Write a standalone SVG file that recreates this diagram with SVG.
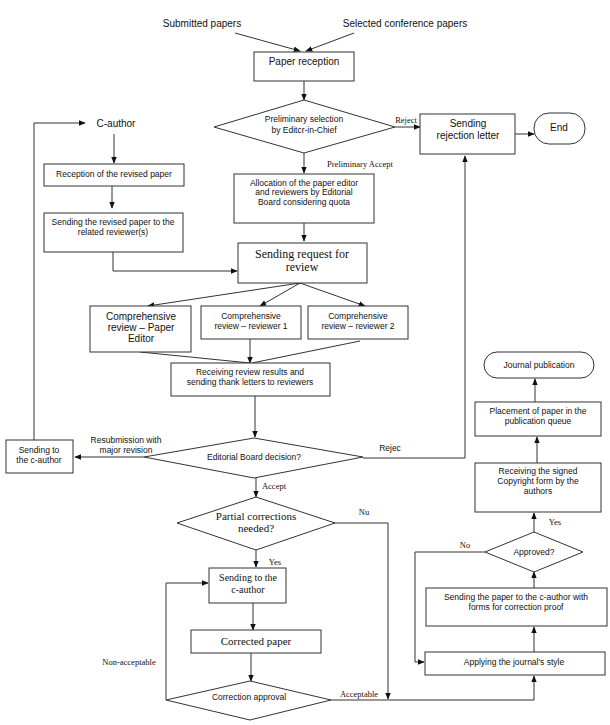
<svg xmlns="http://www.w3.org/2000/svg" width="610" height="725" viewBox="0 0 610 725">
<style>
.s{font-family:"Liberation Sans",Arial,sans-serif;font-size:8.5px;fill:#111;text-anchor:middle}
.sl{font-family:"Liberation Sans",Arial,sans-serif;font-size:10px;fill:#111;text-anchor:middle}
.r{font-family:"Liberation Serif","Times New Roman",serif;font-size:11px;fill:#111;text-anchor:middle}
.rl{font-family:"Liberation Serif","Times New Roman",serif;font-size:8.5px;fill:#111;text-anchor:middle}
.b{fill:#fff;stroke:#333;stroke-width:1}
.c{fill:none;stroke:#333;stroke-width:1;marker-end:url(#a)}
.n{fill:none;stroke:#333;stroke-width:1}
</style>
<defs><marker id="a" viewBox="0 0 10 10" refX="9" refY="5" markerWidth="7" markerHeight="7" orient="auto"><path d="M0,1L10,5L0,9z" fill="#111"/></marker></defs>
<rect width="610" height="725" fill="#fff"/>
<g id="connectors">
<path class="c" d="M235,33L300,51"/><path class="c" d="M354,33L306,51"/>
<path class="c" d="M304,81V100"/>
<path class="c" d="M395,127H420"/>
<path class="c" d="M515,134H534"/>
<path class="c" d="M304,153V173"/>
<path class="c" d="M304,223V241"/>
<path class="c" d="M114,134V163"/>
<path class="c" d="M112,186V208"/>
<path class="c" d="M113,252V271H237"/>
<path class="c" d="M300,283L148,306"/><path class="c" d="M300,283L260,306"/><path class="c" d="M300,283L365,306"/>
<path class="n" d="M140,352L250,363"/><path class="c" d="M250,339V363"/><path class="n" d="M360,341L252,363"/>
<path class="c" d="M255,396V437"/>
<path class="c" d="M144,457H75"/>
<path class="c" d="M34,440V123H85"/>
<path class="c" d="M363,458H465V156"/>
<path class="c" d="M256,478V497"/>
<path class="c" d="M335,523H388V699"/>
<path class="c" d="M256,550V567"/>
<path class="c" d="M253,603V630"/>
<path class="c" d="M251,653V681"/>
<path class="c" d="M166,700V583H208"/>
<path class="c" d="M331,700H534V676"/>
<path class="c" d="M485,552H415V662H424"/>
<path class="c" d="M534,652V627"/>
<path class="c" d="M534,588V572"/>
<path class="c" d="M534,532V513"/>
<path class="c" d="M537,463V437"/>
<path class="c" d="M535,402V379"/>
</g>
<g id="inputs"><text class="sl" x="202" y="27">Submitted papers</text><text class="sl" x="405" y="27">Selected conference papers</text></g>
<g id="reception"><rect class="b" x="254" y="52" width="100" height="29"/><text class="sl" x="304" y="65">Paper reception</text></g>
<g id="prelim"><path class="b" d="M214,127L304,100L395,127L304,153z"/><text class="s" x="304" y="122">Preliminary selection</text><text class="s" x="304" y="133">by Editcr-in-Chief</text></g>
<g id="labels">
<text class="rl" x="406" y="123">Reject</text>
<text class="rl" x="360" y="167">Preliminary Accept</text>
<text class="s" x="126" y="443">Resubmission with</text><text class="s" x="126" y="453">major revision</text>
<text class="s" x="390" y="451">Rejec</text>
<text class="rl" x="274" y="489">Accept</text>
<text class="rl" x="364" y="515">Nu</text>
<text class="rl" x="275" y="565">Yes</text>
<text class="rl" x="129" y="665">Non-acceptable</text>
<text class="rl" x="359" y="697">Acceptable</text>
<text class="rl" x="465" y="548">No</text>
<text class="rl" x="555" y="525">Yes</text>
</g>
<g id="rejection"><rect class="b" x="420" y="114" width="95" height="40"/><text class="sl" x="468" y="127">Sending</text><text class="sl" x="468" y="139">rejection letter</text></g>
<g id="end"><rect class="b" x="534" y="113" width="51" height="31" rx="15"/><text class="sl" x="559" y="131">End</text></g>
<g id="cauthor"><text class="sl" x="116" y="127">C-author</text></g>
<g id="revrecv"><rect class="b" x="44" y="164" width="140" height="22"/><text class="s" x="114" y="177">Reception of the revised paper</text></g>
<g id="revsend"><rect class="b" x="44" y="213" width="139" height="39"/><text class="s" x="113" y="225">Sending the revised paper to the</text><text class="s" x="113" y="235">related reviewer(s)</text></g>
<g id="alloc"><rect class="b" x="234" y="174" width="140" height="49"/><text class="s" x="304" y="186">Allocation of the paper editor</text><text class="s" x="304" y="195">and reviewers by Editorial</text><text class="s" x="304" y="205">Board considering quota</text></g>
<g id="request"><rect class="b" x="238" y="243" width="129" height="40"/><text class="r" x="302" y="258" style="font-size:12px">Sending request for</text><text class="r" x="302" y="271" style="font-size:12px">review</text></g>
<g id="revpe"><rect class="b" x="90" y="306" width="101" height="46"/><text class="sl" x="141" y="320">Comprehensive</text><text class="sl" x="141" y="331">review – Paper</text><text class="sl" x="141" y="342">Editor</text></g>
<g id="rev1"><rect class="b" x="201" y="306" width="100" height="33"/><text class="s" x="251" y="319">Comprehensive</text><text class="s" x="251" y="329">review – reviewer 1</text></g>
<g id="rev2"><rect class="b" x="308" y="306" width="100" height="33"/><text class="s" x="358" y="319">Comprehensive</text><text class="s" x="358" y="329">review – reviewer 2</text></g>
<g id="results"><rect class="b" x="171" y="363" width="159" height="33"/><text class="s" x="250" y="375">Receiving review results and</text><text class="s" x="250" y="385">sending thank letters to reviewers</text></g>
<g id="board"><path class="b" d="M144,457L254,438L363,457L254,478z"/><text class="s" x="254" y="460">Editorial Board decision?</text></g>
<g id="tocauthor"><rect class="b" x="6" y="440" width="67" height="33"/><text class="s" x="39" y="453">Sending to</text><text class="s" x="39" y="463">the c-author</text></g>
<g id="partial"><path class="b" d="M177,523L256,497L335,523L256,550z"/><text class="r" x="256" y="520">Partial corrections</text><text class="r" x="256" y="532">needed?</text></g>
<g id="send2"><rect class="b" x="209" y="568" width="77" height="35"/><text class="r" x="248" y="581" style="font-size:10px">Sending to the</text><text class="r" x="248" y="593" style="font-size:10px">c-author</text></g>
<g id="corrected"><rect class="b" x="191" y="630" width="130" height="23"/><text class="r" x="256" y="645">Corrected paper</text></g>
<g id="approval"><path class="b" d="M166,700L250,681L331,700L250,720z"/><text class="s" x="249" y="700">Correction approval</text></g>
<g id="style"><rect class="b" x="425" y="652" width="180" height="23"/><text class="s" x="514" y="665">Applying the journal's style</text></g>
<g id="proof"><rect class="b" x="426" y="588" width="181" height="38"/><text class="s" x="516" y="600">Sending the paper to the c-author with</text><text class="s" x="516" y="610">forms for correction proof</text></g>
<g id="approved"><path class="b" d="M485,552L534,532L583,552L534,572z"/><text class="s" x="534" y="555">Approved?</text></g>
<g id="copyright"><rect class="b" x="475" y="463" width="126" height="49"/><text class="s" x="538" y="474">Receiving the signed</text><text class="s" x="538" y="484">Copyright form by the</text><text class="s" x="538" y="494">authors</text></g>
<g id="queue"><rect class="b" x="475" y="402" width="126" height="34"/><text class="s" x="538" y="414">Placement of paper in the</text><text class="s" x="538" y="424">publication queue</text></g>
<g id="journal"><rect class="b" x="484" y="352" width="110" height="26" rx="13"/><text class="s" x="539" y="368">Journal publication</text></g>
</svg>
